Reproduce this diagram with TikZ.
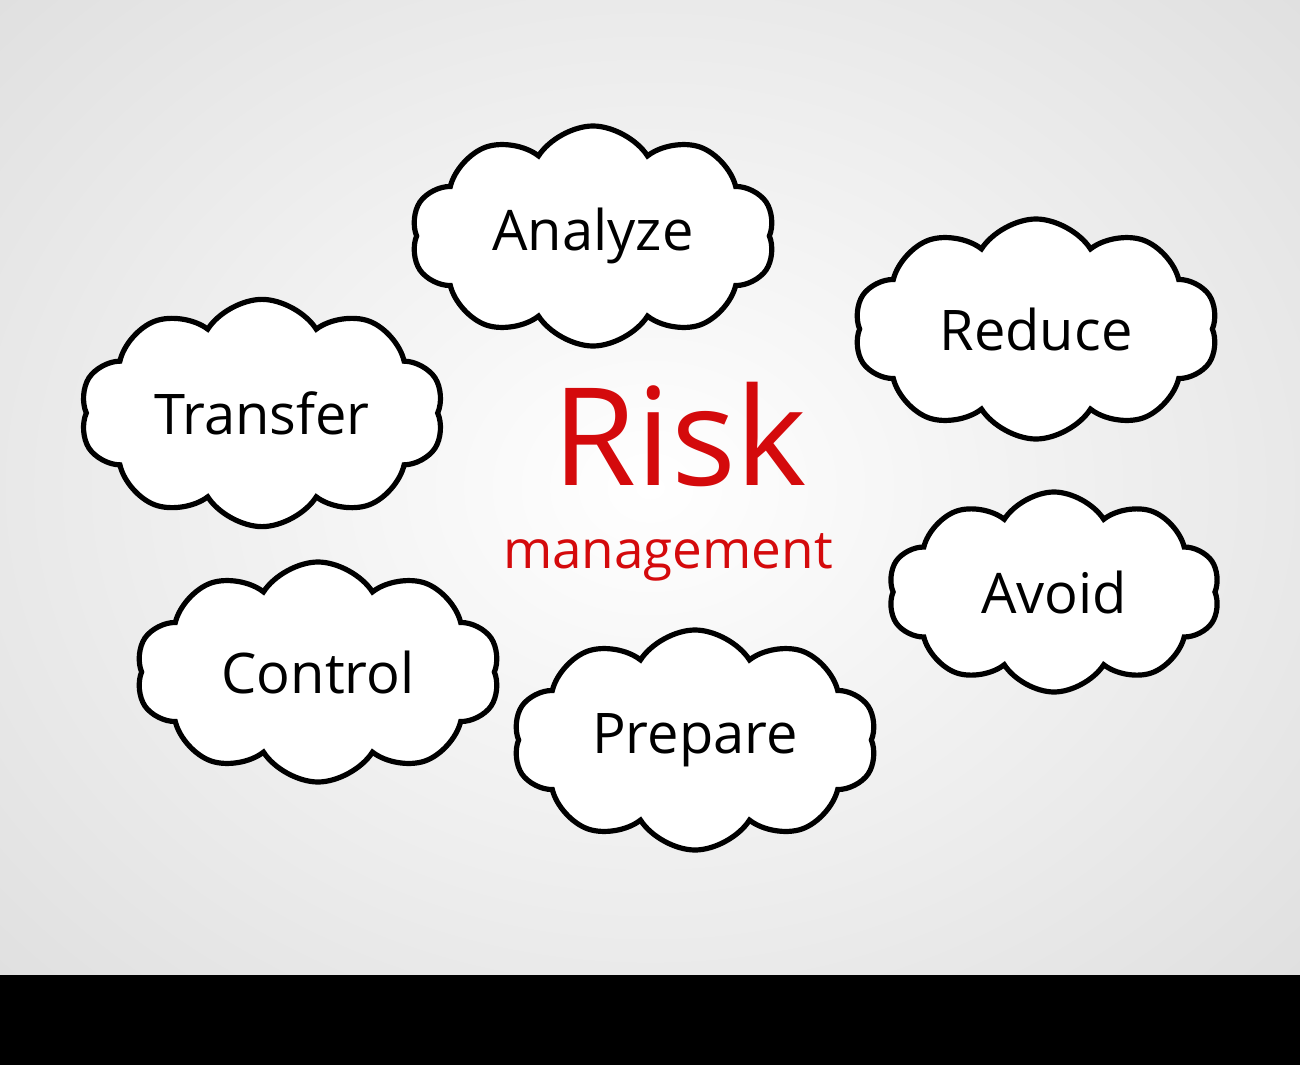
\documentclass[tikz,border=0pt]{standalone}
\usepackage{fontspec}
\setmainfont{Open Sans}
\usetikzlibrary{shapes.symbols}
\definecolor{riskred}{RGB}{212,10,12}

\begin{document}
\begin{tikzpicture}[x=0.5pt, y=-0.5pt,
  riskcloud/.style={cloud, cloud puffs=10, cloud puff arc=115, aspect=1.65,
    draw=black, line width=2.6pt, fill=white, inner sep=0pt,
    minimum width=182pt, minimum height=110pt,
    font=\fontsize{28}{30}\selectfont},
  risktitle/.style={text=riskred, inner sep=0pt, anchor=base}]

\useasboundingbox (0,0) rectangle (1300,1065);

% background and bottom bar
\begin{scope}
\clip (0,0) rectangle (1300,975);
\shade[inner color=white, outer color=gray!26] (-300,-280) rectangle (1600,1255);
\end{scope}
\fill[black] (0,975) rectangle (1300,1065);


\node[riskcloud] (analyze) at (593,236) {Analyze};
\node[riskcloud] (reduce) at (1036,329) {Reduce};
\node[riskcloud] (transfer) at (262,413) {Transfer};
\node[riskcloud, minimum width=166pt, minimum height=100pt] (avoid) at (1054,592) {Avoid};
\node[riskcloud] (control) at (318,672) {Control};
\node[riskcloud] (prepare) at (695,740) {Prepare};


\node[risktitle, font=\fontsize{68}{68}\selectfont] (risk) at (680,485) {Risk};
\node[risktitle, font=\fontsize{26.5}{28}\selectfont] (mgmt) at (668,568) {management};

\end{tikzpicture}
\end{document}
